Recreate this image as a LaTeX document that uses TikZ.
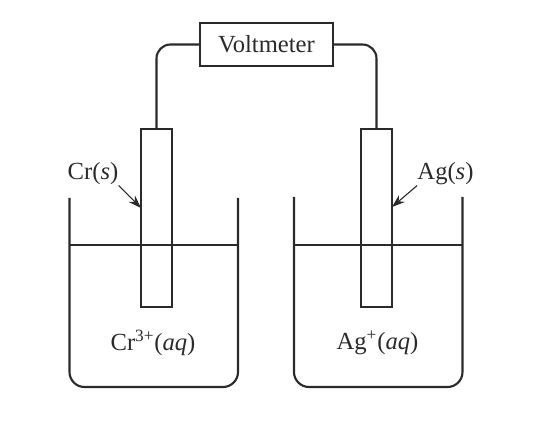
\documentclass[tikz,border=0pt]{standalone}
\usepackage{fontspec}
\setmainfont{Liberation Serif}
\usetikzlibrary{positioning}
\usetikzlibrary{arrows.meta}
\definecolor{inkcol}{HTML}{2A2A2A}

\begin{document}
\begin{tikzpicture}[x=0.2mm, y=-0.2mm, color=inkcol,
    box style/.style={
        rectangle, draw, line width=0.42mm,
        inner sep=0pt
    },
    label style/.style={
        inner sep=0pt,
        font=\fontsize{14}{16}\selectfont
    },
    wire/.style={line width=0.42mm, rounded corners=2.8mm},
    wall/.style={line width=0.42mm, rounded corners=3mm},
    liquid/.style={line width=0.36mm},
    pointer/.style={line width=0.22mm, -{Stealth[length=2.6mm, width=1.8mm]}}
]
	\useasboundingbox (0,0) rectangle (546,425);

	\node[box style, minimum width=26.6mm, minimum height=8.6mm, label style] (meter) at (266.5,44.5) {Voltmeter};
	\node[box style, minimum width=6.2mm, minimum height=35.6mm] (crbar) at (156.5,218) {};
	\node[box style, minimum width=6.2mm, minimum height=35.6mm] (agbar) at (376.5,218) {};

	\node[label style] (crs) at (93,174) {Cr(\textit{s})};
	\node[label style] (ags) at (445.5,174) {Ag(\textit{s})};
	\node[label style] (crion) at (153,343) {Cr\textsuperscript{3+}(\textit{aq})};
	\node[label style] (agion) at (377.5,343) {Ag\textsuperscript{+}(\textit{aq})};

	% left beaker
	\coordinate (cra) at (69.5,198);
	\coordinate (crb) at (69.5,387);
	\coordinate (crc) at (238,387);
	\coordinate (crd) at (238,198);
	\coordinate (crl) at (69.5,245);
	\coordinate (crr) at (238,245);
	\coordinate (crtip) at (141,208);

	% right beaker
	\coordinate (aga) at (294,197);
	\coordinate (agb) at (294,387);
	\coordinate (agc) at (462.5,387);
	\coordinate (agd) at (462.5,197);
	\coordinate (agl) at (294,245);
	\coordinate (agr) at (462.5,245);
	\coordinate (agtip) at (392,207);

	\draw[wire] (meter.west) -| (crbar.north);
	\draw[wire] (meter.east) -| (agbar.north);
	\draw[wall] (cra) -- (crb) -- (crc) -- (crd);
	\draw[wall] (aga) -- (agb) -- (agc) -- (agd);
	\draw[liquid] (crl) -- (crr);
	\draw[liquid] (agl) -- (agr);
	\draw[pointer] (crs.south east) -- (crtip);
	\draw[pointer] (ags.south west) -- (agtip);

\end{tikzpicture}
\end{document}
